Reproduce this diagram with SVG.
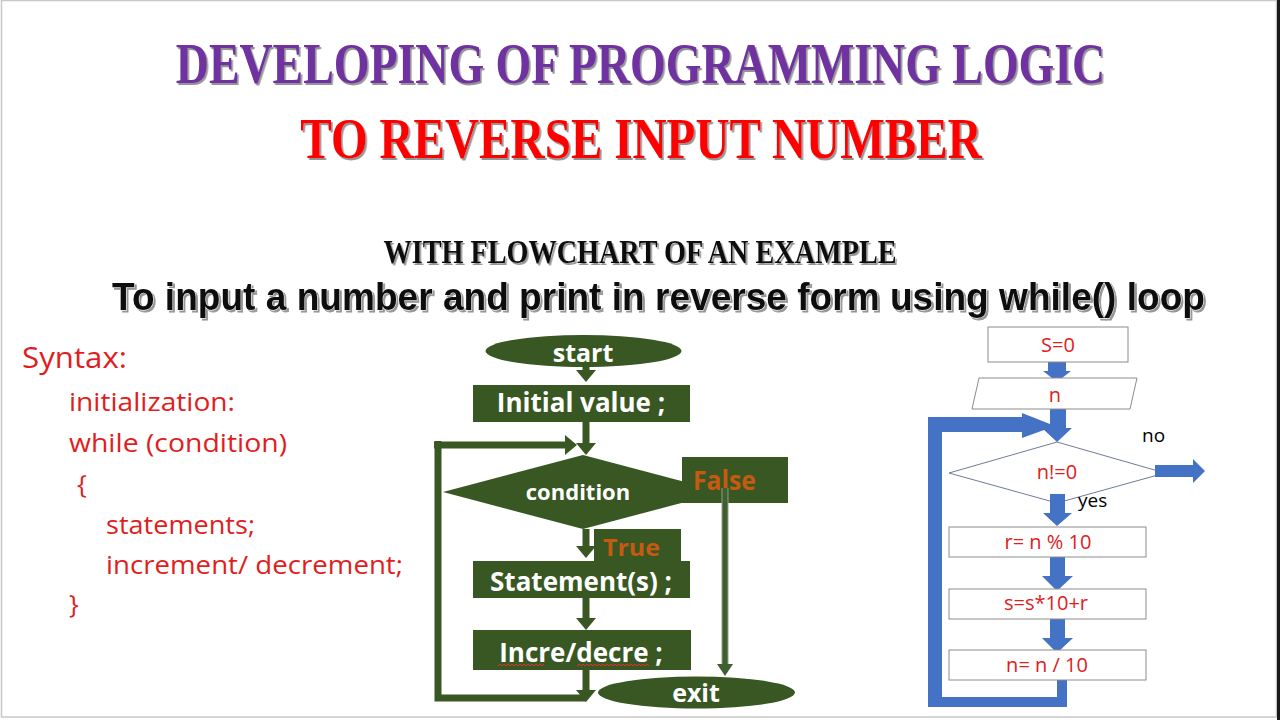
<svg xmlns="http://www.w3.org/2000/svg" width="1280" height="720" viewBox="0 0 1280 720">
<style>
.ttl{font-family:"Liberation Serif","DejaVu Serif",serif;font-weight:bold}
.sub{font-family:"Liberation Sans","DejaVu Sans",sans-serif;font-weight:bold}
.syn{font-family:"Open Sans","Noto Sans",sans-serif;fill:#E01E1E}
.gt{font-family:"Open Sans","Noto Sans",sans-serif;font-weight:bold;fill:#FFFFFF;text-anchor:middle}
.ot{font-family:"Open Sans","Noto Sans",sans-serif;font-weight:bold;fill:#C55A11}
.g{fill:#385723}
.gl{fill:none;stroke:#385723;stroke-width:7}
.rt{font-family:"Open Sans","Noto Sans",sans-serif;fill:#E02020;font-size:20px;text-anchor:middle}
.bt{font-family:"Open Sans","Noto Sans",sans-serif;fill:#000000;font-size:19px}
.rb{fill:#FFFFFF;stroke:#8C8C8C;stroke-width:1}
.blue{fill:#4472C4}
</style>
<defs>
<filter id="shadow" x="-5%" y="-20%" width="110%" height="150%">
<feDropShadow dx="2" dy="2" stdDeviation="0.6" flood-color="#7A7A7A" flood-opacity="0.8"/>
</filter>
<marker id="ah" viewBox="0 0 12 20" preserveAspectRatio="none" refX="4" refY="10" markerWidth="12" markerHeight="20" markerUnits="userSpaceOnUse" orient="auto">
<path d="M0,0 L12,10 L0,20 z" fill="#385723"/>
</marker>
<marker id="ahs" viewBox="0 0 12 16" preserveAspectRatio="none" refX="4" refY="8" markerWidth="12" markerHeight="16" markerUnits="userSpaceOnUse" orient="auto">
<path d="M0,0 L12,8 L0,16 z" fill="#3F5F30"/>
</marker>
</defs>
<rect x="0" y="0" width="1280" height="720" fill="#FFFFFF"/>
<rect x="1.5" y="0.5" width="1275" height="716.5" fill="none" stroke="#C8C8C8" stroke-width="1.5"/>
<rect x="1277" y="0" width="3" height="720" fill="#1A1A1A"/>

<!-- Titles -->
<g id="title1">
<text class="ttl" transform="translate(640.5,83) scale(0.819,1)" x="0" y="0" font-size="56" text-anchor="middle" fill="#7030A0" filter="url(#shadow)">DEVELOPING OF PROGRAMMING LOGIC</text>
</g>
<g id="title2">
<text class="ttl" transform="translate(641,158) scale(0.843,1)" x="0" y="0" font-size="56" text-anchor="middle" fill="#FF0000" filter="url(#shadow)">TO REVERSE INPUT NUMBER</text>
</g>
<g id="subtitle">
<text class="ttl" transform="translate(640,263) scale(0.83,1)" x="0" y="0" font-size="34" text-anchor="middle" fill="#111111" filter="url(#shadow)">WITH FLOWCHART OF AN EXAMPLE</text>
</g>
<g id="heading">
<text class="sub" x="112" y="310" font-size="38" textLength="1093" lengthAdjust="spacingAndGlyphs" fill="#111111" stroke="#FFFFFF" stroke-width="0.8" paint-order="stroke" filter="url(#shadow)">To input a number and print in reverse form using while() loop</text>
</g>

<!-- Syntax -->
<g id="syntax">
<text class="syn" x="22" y="368" font-size="29" textLength="105" lengthAdjust="spacingAndGlyphs">Syntax:</text>
<text class="syn" x="69" y="411" font-size="26" textLength="166" lengthAdjust="spacingAndGlyphs">initialization:</text>
<text class="syn" x="69" y="452" font-size="26" textLength="218" lengthAdjust="spacingAndGlyphs">while (condition)</text>
<text class="syn" x="77" y="493" font-size="26">{</text>
<text class="syn" x="106" y="534" font-size="26" textLength="149" lengthAdjust="spacingAndGlyphs">statements;</text>
<text class="syn" x="106" y="574" font-size="26" textLength="297" lengthAdjust="spacingAndGlyphs">increment/ decrement;</text>
<text class="syn" x="69" y="613" font-size="26">}</text>
</g>

<!-- Left flowchart connectors -->
<g id="connectors-left">
<line class="gl" x1="586" y1="367" x2="586" y2="374" marker-end="url(#ah)"/>
<line class="gl" x1="586" y1="422" x2="586" y2="447" marker-end="url(#ah)"/>
<path class="gl" d="M586,698 H438 V441" stroke-width="8"/>
<line class="gl" x1="434" y1="445" x2="569" y2="445" stroke-width="6" marker-end="url(#ah)"/>
<line class="gl" x1="586" y1="529" x2="586" y2="550" marker-end="url(#ah)"/>
<line class="gl" x1="586" y1="598" x2="586" y2="622" marker-end="url(#ah)"/>
<line class="gl" x1="586" y1="670" x2="586" y2="694" marker-end="url(#ah)"/>
</g>

<!-- Left flowchart nodes -->
<g id="start">
<ellipse class="g" cx="583.5" cy="351" rx="98" ry="16"/>
<text class="gt" x="583" y="362" font-size="25">start</text>
</g>
<g id="initial">
<rect class="g" x="473" y="385" width="217" height="37"/>
<text class="gt" x="581" y="412" font-size="26">Initial value ;</text>
</g>
<g id="condition">
<polygon class="g" points="583,455 723,492 583,529 443,492"/>
<text class="gt" x="578" y="500" font-size="22">condition</text>
</g>
<g id="false-label">
<rect class="g" x="682" y="457" width="106" height="46"/>
<text class="ot" x="693" y="490" font-size="26" textLength="63" lengthAdjust="spacingAndGlyphs">False</text>
</g>
<g id="false-connector">
<line x1="725" y1="488" x2="725" y2="668" stroke="#8FA080" stroke-width="7"/>
<line x1="725" y1="488" x2="725" y2="668" stroke="#3F5F30" stroke-width="5" marker-end="url(#ahs)"/>
</g>
<g id="true-label">
<rect class="g" x="594" y="529" width="87" height="32"/>
<text class="ot" x="603" y="556" font-size="24" textLength="57" lengthAdjust="spacingAndGlyphs">True</text>
</g>
<g id="statements">
<rect class="g" x="473" y="561" width="217" height="37"/>
<text class="gt" x="581" y="591" font-size="26">Statement(s) ;</text>
</g>
<g id="incre">
<rect class="g" x="473" y="630" width="218" height="40"/>
<text class="gt" x="581" y="662" font-size="26">Incre/decre ;</text>
<path d="M498,666 l2,-2 l2,2 l2,-2 l2,2 l2,-2 l2,2 l2,-2 l2,2 l2,-2 l2,2 l2,-2 l2,2 l2,-2 l2,2 l2,-2 l2,2 l2,-2 l2,2 l2,-2 l2,2 l2,-2 l2,2 l2,-2" fill="none" stroke="#E03030" stroke-width="1"/>
<path d="M577,666 l2,-2 l2,2 l2,-2 l2,2 l2,-2 l2,2 l2,-2 l2,2 l2,-2 l2,2 l2,-2 l2,2 l2,-2 l2,2 l2,-2 l2,2 l2,-2 l2,2 l2,-2 l2,2 l2,-2 l2,2 l2,-2 l2,2 l2,-2 l2,2 l2,-2 l2,2 l2,-2 l2,2 l2,-2 l2,2 l2,-2 l2,2 l2,-2 l2,2" fill="none" stroke="#E03030" stroke-width="1"/>
</g>
<g id="exit">
<ellipse class="g" cx="696.5" cy="692.5" rx="98.5" ry="16"/>
<text class="gt" x="696" y="702" font-size="25">exit</text>
</g>

<!-- Right flowchart connectors -->
<g id="connectors-right">
<polygon class="blue" points="1048,362 1066,362 1066,371 1071,371 1057,382 1043,371 1048,371"/>
<polygon class="blue" points="1050,409 1066,409 1066,428 1072,428 1057,442 1042,428 1050,428"/>
<polygon class="blue" points="1067,680 1067,707 928,707 928,417 1022,417 1022,413 1055,426 1022,438 1022,432 942,432 942,697 1057,697 1057,680"/>
<polygon class="blue" points="1050,557 1065,557 1065,576 1073,576 1057,591 1042,576 1050,576"/>
<polygon class="blue" points="1050,619 1065,619 1065,638 1073,638 1057,653 1042,638 1050,638"/>
</g>

<!-- Right flowchart nodes -->
<g id="s0">
<rect class="rb" x="988" y="327" width="140" height="35"/>
<text class="rt" x="1058" y="352">S=0</text>
</g>
<g id="input-n">
<polygon class="rb" points="979,378 1137,378 1130,409 972,409"/>
<text class="rt" x="1055" y="402">n</text>
</g>
<g id="decision">
<polygon points="1057,442 1165,473 1057,503 949,473" fill="#FFFFFF" stroke="#6E7C9A" stroke-width="1"/>
<text class="rt" x="1057" y="479">n!=0</text>
</g>
<g id="no-arrow">
<polygon class="blue" points="1155,465 1193,465 1193,459 1205,471 1193,483 1193,477 1155,477"/>
</g>
<g id="yes-down">
<polygon class="blue" points="1050,494 1065,494 1065,513 1072,513 1057,526 1043,513 1050,513"/>
</g>
<g id="labels-right">
<text class="bt" x="1142" y="442">no</text>
<text class="bt" x="1078" y="507">yes</text>
</g>
<g id="r-box">
<rect class="rb" x="949" y="527" width="197" height="30"/>
<text class="rt" x="1048" y="549">r= n % 10</text>
</g>
<g id="s-box">
<rect class="rb" x="949" y="589" width="197" height="30"/>
<text class="rt" x="1046" y="610">s=s*10+r</text>
</g>
<g id="n-box">
<rect class="rb" x="949" y="650" width="197" height="30"/>
<text class="rt" x="1047" y="672">n= n / 10</text>
</g>
</svg>
